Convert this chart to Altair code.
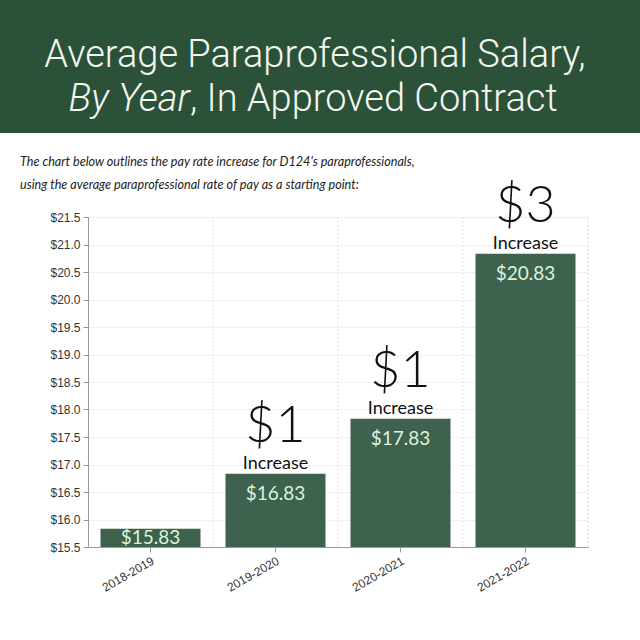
import altair as alt
import pandas as pd

# School-year contract periods and the average paraprofessional hourly rate
years = ["2018-2019", "2019-2020", "2020-2021", "2021-2022"]
salaries = [15.83, 16.83, 17.83, 20.83]
increases = [0, 1, 1, 3]

y_ticks = [15.5, 16.0, 16.5, 17.0, 17.5, 18.0, 18.5, 19.0, 19.5, 20.0, 20.5, 21.0, 21.5]

title_line1 = "Average Paraprofessional Salary,"
title_line2_italic = "By Year"
title_line2_rest = ", In Approved Contract"
subtitle_lines = [
    "The chart below outlines the pay rate increase for D124's paraprofessionals,",
    "using the average paraprofessional rate of pay as a starting point:",
]

df = pd.DataFrame({"year": years, "salary": salaries, "increase": increases})

HEADER = "#2b5238"
BAR = "#3e624d"
W, H = 500, 330
PAD_L, PAD_T, PAD_R, PAD_B = 88, 217, 52, 93

one = alt.Data(values=[{}])

y_scale = alt.Scale(domain=[15.5, 21.5], nice=False, zero=False)
x_scale = alt.Scale(paddingInner=0.2, paddingOuter=0.1)

x_axis = alt.Axis(
    title=None,
    labelAngle=-30,
    labelFont="Liberation Sans",
    labelFontSize=12,
    labelColor="#333333",
    labelPadding=3,
    labelOverlap=False,
    tickColor="#999999",
    tickSize=5,
    domainColor="#999999",
    grid=False,
)
y_axis = alt.Axis(
    title=None,
    values=y_ticks,
    format="$.1f",
    labelFont="Liberation Sans",
    labelFontSize=12,
    labelColor="#333333",
    labelPadding=3,
    labelOverlap=False,
    tickColor="#999999",
    tickSize=5,
    domainColor="#999999",
    grid=True,
    gridColor="#e2e2e2",
    gridDash=[2, 2],
)


def xe(**kw):
    return alt.X("year:N", sort=years, scale=x_scale, axis=x_axis, **kw)


def ye(field):
    return alt.Y(field, scale=y_scale, axis=y_axis)


bars = alt.Chart(df).mark_bar(color=BAR).encode(
    x=xe(),
    y=ye("salary:Q"),
    y2=alt.datum(15.5),
)

# Dashed separators on the right edge of each year's column (half the inner gap past the bar)
vgrid = alt.Chart(df).mark_rule(color="#e2e2e2", strokeDash=[2, 2], xOffset=12.5).encode(
    x=xe(bandPosition=1),
)

value_labels = (
    alt.Chart(df)
    .transform_calculate(
        label_pos="max(datum.salary - 0.36, (datum.salary + 15.5) / 2)",
        label="'$' + format(datum.salary, '.2f')",
    )
    .mark_text(font="Lato", fontSize=19, color="#dcf3df", baseline="middle")
    .encode(x=xe(), y=ye("label_pos:Q"), text="label:N")
)

raised = alt.Chart(df).transform_filter("datum.increase > 0")

increase_word = raised.mark_text(
    font="Lato", fontSize=18, color="#111111", baseline="alphabetic", dy=-5
).encode(
    x=xe(),
    y=ye("salary:Q"),
    text=alt.value("Increase"),
)

increase_amount = raised.transform_calculate(
    amt="'$' + datum.increase"
).mark_text(
    font="Lato", fontWeight=300, fontSize=52, color="#111111", baseline="alphabetic", dy=-32
).encode(
    x=xe(),
    y=ye("salary:Q"),
    text="amt:N",
)

# Header band and headline
header = alt.Chart(one).mark_rect(color=HEADER).encode(
    x=alt.value(-PAD_L), x2=alt.value(W + PAD_R), y=alt.value(-PAD_T), y2=alt.value(-84)
)
title_font = dict(font="Roboto", fontWeight=300, fontSize=38, color="#f4f7f2", baseline="alphabetic")
t1 = alt.Chart(one).mark_text(align="center", text=title_line1, **title_font).encode(
    x=alt.value(227), y=alt.value(-150)
)
t2a = alt.Chart(one).mark_text(align="right", fontStyle="italic", text=title_line2_italic, **title_font).encode(
    x=alt.value(102), y=alt.value(-106)
)
t2b = alt.Chart(one).mark_text(align="left", text=title_line2_rest, **title_font).encode(
    x=alt.value(102), y=alt.value(-106)
)

sub_font = dict(font="Lato", fontStyle="italic", fontSize=12.6, color="#222222", align="left", baseline="alphabetic")
s1 = alt.Chart(one).mark_text(text=subtitle_lines[0], **sub_font).encode(x=alt.value(-68), y=alt.value(-51))
s2 = alt.Chart(one).mark_text(text=subtitle_lines[1], **sub_font).encode(x=alt.value(-68), y=alt.value(-28))

chart = (
    alt.layer(vgrid, bars, value_labels, increase_word, increase_amount, header, t1, t2a, t2b, s1, s2)
    .properties(
        width=W,
        height=H,
        padding={"left": PAD_L, "top": PAD_T, "right": PAD_R, "bottom": PAD_B},
        autosize=alt.AutoSizeParams(type="none"),
        background="white",
    )
    .configure_view(stroke="#e2e2e2", strokeDash=[2, 2])
)

chart.save("out.html", embed_options={"renderer": "svg", "actions": False})
